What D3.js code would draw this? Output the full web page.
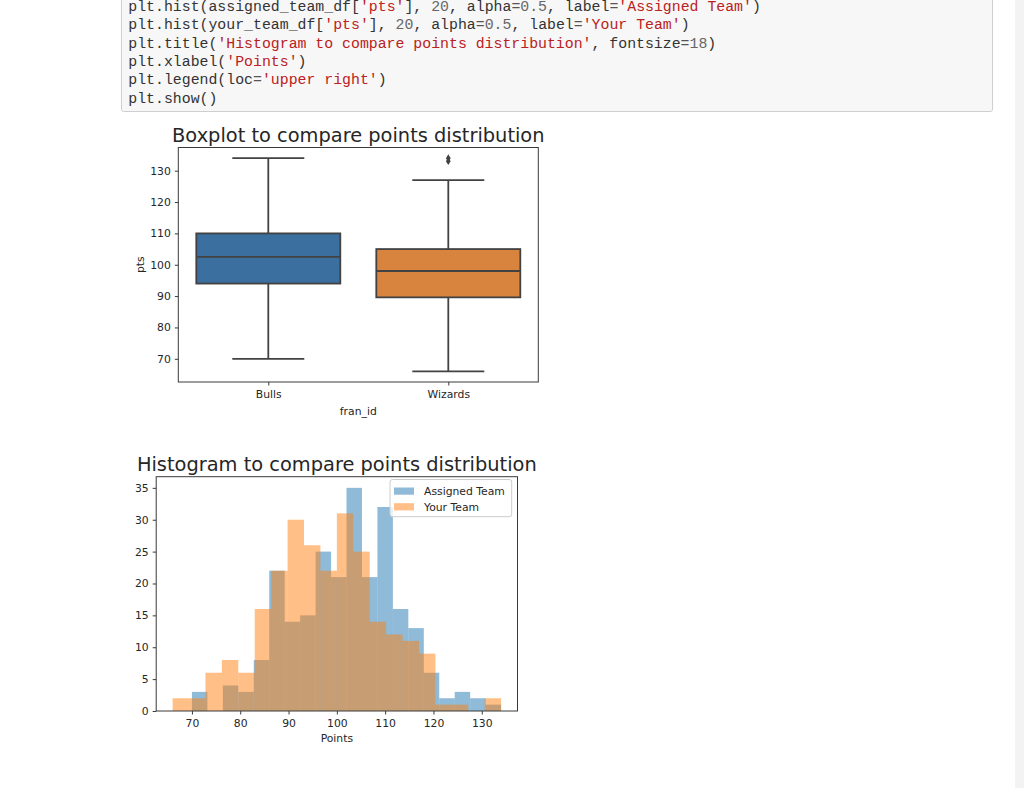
<!DOCTYPE html>
<html><head><meta charset="utf-8">
<script src="https://cdn.jsdelivr.net/npm/d3@7"></script>
<style>html,body{margin:0;padding:0;background:#fff;}svg{display:block;}</style>
</head><body>
<script>
// ---------- data ----------
const codeLines = [
  [["plt.hist(assigned_team_df[","t"],["'pts'","s"],["], ","t"],["20","n"],[", alpha","t"],["=","o"],["0.5","n"],[", label","t"],["=","o"],["'Assigned Team'","s"],[")","t"]],
  [["plt.hist(your_team_df[","t"],["'pts'","s"],["], ","t"],["20","n"],[", alpha","t"],["=","o"],["0.5","n"],[", label","t"],["=","o"],["'Your Team'","s"],[")","t"]],
  [["plt.title(","t"],["'Histogram to compare points distribution'","s"],[", fontsize","t"],["=","o"],["18","n"],[")","t"]],
  [["plt.xlabel(","t"],["'Points'","s"],[")","t"]],
  [["plt.legend(loc","t"],["=","o"],["'upper right'","s"],[")","t"]],
  [["plt.show()","t"]]
];

const boxCategories = ["Bulls", "Wizards"];
const boxWhiskerLow = [70, 66];
const boxQ1 = [94, 89.6];
const boxMedian = [102.5, 98];
const boxQ3 = [110, 105];
const boxWhiskerHigh = [134, 127];
const boxOutliers = [[], [133, 134]];
const boxYTicks = [70, 80, 90, 100, 110, 120, 130];

const histSeries = ["Assigned Team", "Your Team"];
const assignedRange = [70, 134];
const yourRange = [66, 134];
const assignedCounts = [3,0,4,3,8,22,14,15,25,21,35,21,32,16,13,6,2,3,2,1];
const yourCounts = [2,2,6,8,6,16,22,30,26,22,31,25,14,12,11,9,1,1,0,2];
const histXTicks = [70, 80, 90, 100, 110, 120, 130];
const histYTicks = [0, 5, 10, 15, 20, 25, 30, 35];

// ---------- page ----------
const W = 1024, H = 788;
const svg = d3.select("body").append("svg").attr("width", W).attr("height", H);
svg.append("rect").attr("width", W).attr("height", H).attr("fill", "#fff");
svg.append("rect").attr("x", 1015).attr("y", 0).attr("width", 9).attr("height", H).attr("fill", "#f3f3f3");

// code cell
svg.append("rect").attr("x", 121.5).attr("y", -10).attr("width", 871).attr("height", 121.5)
  .attr("rx", 2).attr("fill", "#f7f7f7").attr("stroke", "#cfcfcf").attr("stroke-width", 1);
const codeColors = {t: "#333", s: "#ba2121", n: "#666", o: "#555"};
const codeG = svg.append("g").attr("font-family", "'Liberation Mono', 'Courier New', monospace")
  .attr("font-size", "14.85px");
codeLines.forEach((line, i) => {
  const t = codeG.append("text").attr("x", 128.3).attr("y", 11 + i * 18.35).attr("xml:space", "preserve");
  line.forEach(([s, k]) => t.append("tspan").attr("fill", codeColors[k]).text(s));
});

const FONT = "'DejaVu Sans', sans-serif";
const TXT = "#262626", SPINE = "#3a3a3a";
const SMALL = "10.8px", BIG = "19.4px";

// ---------- boxplot ----------
{
  const L = 178.3, R = 538.3, T = 147.5, B = 382;
  const x = d3.scaleLinear().domain([-0.5, 1.5]).range([L, R]);
  const y = d3.scaleLinear().domain([62.6, 137.4]).range([B, T]);
  const g = svg.append("g");
  const boxColors = ["#3a6f9f", "#d8843e"];
  const lc = "#424242", lw = 1.8;
  boxCategories.forEach((c, i) => {
    g.append("line").attr("x1", x(i)).attr("x2", x(i)).attr("y1", y(boxQ3[i])).attr("y2", y(boxWhiskerHigh[i]))
      .attr("stroke", lc).attr("stroke-width", lw);
    g.append("line").attr("x1", x(i)).attr("x2", x(i)).attr("y1", y(boxQ1[i])).attr("y2", y(boxWhiskerLow[i]))
      .attr("stroke", lc).attr("stroke-width", lw);
    [boxWhiskerHigh[i], boxWhiskerLow[i]].forEach(v => {
      g.append("line").attr("x1", x(i - 0.2)).attr("x2", x(i + 0.2)).attr("y1", y(v)).attr("y2", y(v))
        .attr("stroke", lc).attr("stroke-width", lw);
    });
    g.append("rect").attr("x", x(i - 0.4)).attr("width", x(i + 0.4) - x(i - 0.4))
      .attr("y", y(boxQ3[i])).attr("height", y(boxQ1[i]) - y(boxQ3[i]))
      .attr("fill", boxColors[i]).attr("stroke", lc).attr("stroke-width", lw);
    g.append("line").attr("x1", x(i - 0.4)).attr("x2", x(i + 0.4)).attr("y1", y(boxMedian[i])).attr("y2", y(boxMedian[i]))
      .attr("stroke", lc).attr("stroke-width", lw);
    boxOutliers[i].forEach(v => {
      const cx = x(i), cy = y(v);
      g.append("path").attr("d", `M${cx},${cy-3.8}L${cx+2.4},${cy}L${cx},${cy+3.8}L${cx-2.4},${cy}Z`).attr("fill", lc);
    });
  });
  g.append("rect").attr("x", L).attr("y", T).attr("width", R - L).attr("height", B - T)
    .attr("fill", "none").attr("stroke", SPINE).attr("stroke-width", 1);
  const ya = svg.append("g").attr("transform", `translate(${L},0)`)
    .call(d3.axisLeft(y).tickValues(boxYTicks).tickSize(3.5).tickPadding(4));
  const xa = svg.append("g").attr("transform", `translate(0,${B})`)
    .call(d3.axisBottom(x).tickValues([0, 1]).tickFormat(d => boxCategories[d]).tickSize(3.5).tickPadding(5));
  [ya, xa].forEach(a => {
    a.select(".domain").remove();
    a.selectAll("line").attr("stroke", SPINE);
    a.selectAll("text").attr("font-family", FONT).attr("font-size", SMALL).attr("fill", TXT);
  });
  svg.append("text").attr("x", (L + R) / 2).attr("y", 141.7).attr("text-anchor", "middle")
    .attr("font-family", FONT).attr("font-size", BIG).attr("fill", TXT).text("Boxplot to compare points distribution");
  svg.append("text").attr("x", (L + R) / 2).attr("y", 415).attr("text-anchor", "middle")
    .attr("font-family", FONT).attr("font-size", SMALL).attr("fill", TXT).text("fran_id");
  svg.append("text").attr("transform", `translate(143.5,${(T + B) / 2}) rotate(-90)`).attr("text-anchor", "middle")
    .attr("font-family", FONT).attr("font-size", SMALL).attr("fill", TXT).text("pts");
}

// ---------- histogram ----------
{
  const L = 156.2, R = 517.5, T = 476.7, B = 711;
  const x = d3.scaleLinear().domain([62.6, 137.4]).range([L, R]);
  const y = d3.scaleLinear().domain([0, 36.75]).range([B, T]);
  const g = svg.append("g");
  const cols = ["#1f77b4", "#ff7f0e"];
  const series = [[assignedRange, assignedCounts], [yourRange, yourCounts]];
  series.forEach(([rng, counts], s) => {
    const n = counts.length, w = (rng[1] - rng[0]) / n;
    const bins = counts.map((c, k) => ({x0: rng[0] + k * w, x1: rng[0] + (k + 1) * w, c}));
    g.append("g").selectAll("rect").data(bins.filter(b => b.c > 0)).join("rect")
      .attr("x", b => x(b.x0)).attr("width", b => x(b.x1) - x(b.x0))
      .attr("y", b => y(b.c)).attr("height", b => B - y(b.c))
      .attr("fill", cols[s]).attr("fill-opacity", 0.5);
  });
  g.append("rect").attr("x", L).attr("y", T).attr("width", R - L).attr("height", B - T)
    .attr("fill", "none").attr("stroke", SPINE).attr("stroke-width", 1);
  const ya = svg.append("g").attr("transform", `translate(${L},0)`)
    .call(d3.axisLeft(y).tickValues(histYTicks).tickSize(3.5).tickPadding(4));
  const xa = svg.append("g").attr("transform", `translate(0,${B})`)
    .call(d3.axisBottom(x).tickValues(histXTicks).tickSize(3.5).tickPadding(5));
  [ya, xa].forEach(a => {
    a.select(".domain").remove();
    a.selectAll("line").attr("stroke", SPINE);
    a.selectAll("text").attr("font-family", FONT).attr("font-size", SMALL).attr("fill", TXT);
  });
  svg.append("text").attr("x", (L + R) / 2).attr("y", 470.5).attr("text-anchor", "middle")
    .attr("font-family", FONT).attr("font-size", BIG).attr("fill", TXT).text("Histogram to compare points distribution");
  svg.append("text").attr("x", (L + R) / 2).attr("y", 742.3).attr("text-anchor", "middle")
    .attr("font-family", FONT).attr("font-size", SMALL).attr("fill", TXT).text("Points");
  const lg = svg.append("g");
  lg.append("rect").attr("x", 390).attr("y", 479.5).attr("width", 121.7).attr("height", 37.2).attr("rx", 2.5)
    .attr("fill", "#fff").attr("fill-opacity", 0.8).attr("stroke", "#cccccc").attr("stroke-width", 1);
  histSeries.forEach((name, i) => {
    const cy = 491.3 + i * 15.7;
    lg.append("rect").attr("x", 394).attr("y", cy - 3.8).attr("width", 20).attr("height", 7.2)
      .attr("fill", cols[i]).attr("fill-opacity", 0.5);
    lg.append("text").attr("x", 424).attr("y", cy + 3.8).attr("font-family", FONT).attr("font-size", SMALL)
      .attr("fill", TXT).text(name);
  });
}
</script>
</body></html>
